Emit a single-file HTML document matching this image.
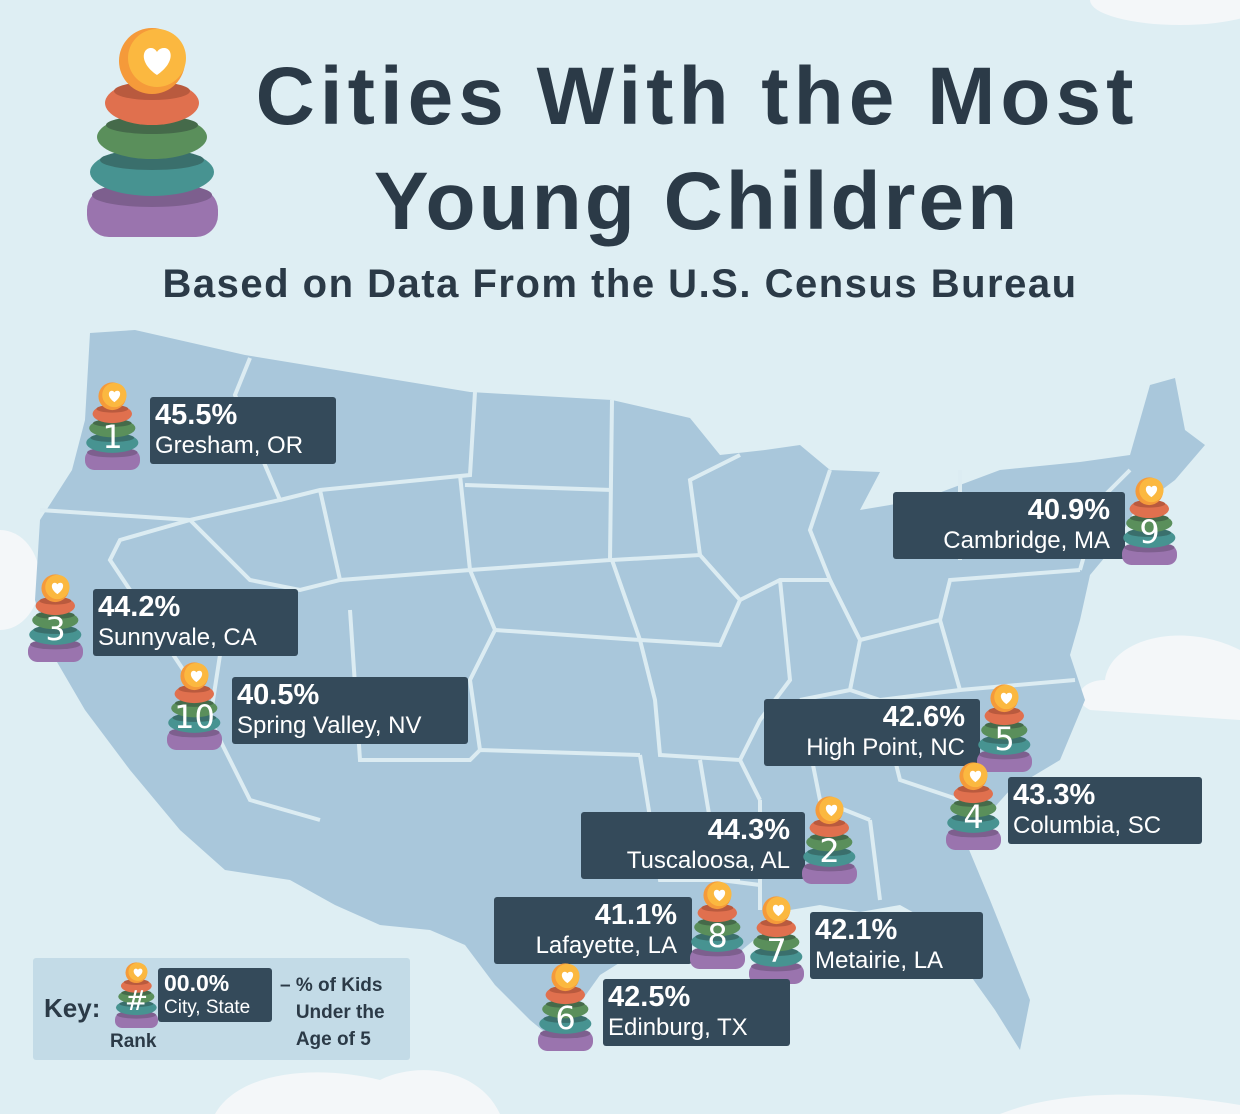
<!DOCTYPE html>
<html><head><meta charset="utf-8"><style>
body{margin:0;}
#c{position:relative;width:1240px;height:1114px;overflow:hidden;background:#deeef3;font-family:"Liberation Sans",sans-serif;}
.t{position:absolute;text-align:center;color:#2b3a47;font-weight:bold;white-space:nowrap;}
.box{position:absolute;background:#344a5a;border-radius:3px;color:#fff;box-sizing:border-box;padding:2px 14px 0 5px;}
.box b{display:block;font-size:29px;line-height:32px;}
.box span{display:block;font-size:24px;line-height:30px;}
.r{text-align:right;padding:2px 15px 0 5px;}
.ic{position:absolute;width:55px;height:88px;}
.ic svg{width:100%;height:100%;}
.ic i{position:absolute;left:0;width:55px;top:36px;text-align:center;color:#fff;font-style:normal;font-size:32px;font-family:"DejaVu Sans",sans-serif;}
</style></head><body><div id="c">
<svg width="0" height="0" style="position:absolute"><defs>
<symbol id="st" viewBox="0 0 131 210" preserveAspectRatio="none">
<rect x="0" y="161" width="131" height="49" rx="22" fill="#9a74ae"/>
<ellipse cx="65" cy="168" rx="60" ry="12" fill="#7d5f8e"/>
<ellipse cx="65" cy="145" rx="62" ry="24" fill="#479391"/>
<ellipse cx="65" cy="133" rx="52" ry="10" fill="#3a6f6c"/>
<ellipse cx="65" cy="110" rx="55" ry="22" fill="#5a8f5b"/>
<ellipse cx="65" cy="98" rx="46" ry="9" fill="#456a4a"/>
<ellipse cx="65" cy="76" rx="47" ry="22" fill="#e0704e"/>
<ellipse cx="65" cy="64" rx="38" ry="9" fill="#b95a3e"/>
<circle cx="65" cy="34" r="33" fill="#f59a3a"/>
<circle cx="70" cy="31" r="29" fill="#fbb840"/>
<path d="M70 48 C52 36 55 21 64 21 C68 21 70 25 70 25 C70 25 72 21 77 21 C86 21 88 36 70 48Z" fill="#fff"/>
</symbol></defs></svg>

<svg style="position:absolute;left:0;top:0" width="1240" height="1114">
<ellipse cx="1180" cy="0" rx="90" ry="25" fill="#f4f7f9"/>
<ellipse cx="0" cy="580" rx="40" ry="50" fill="#f4f7f9"/>
<path d="M1240 650 C1180 620 1110 640 1105 680 C1080 680 1070 700 1090 710 L1240 720Z" fill="#f4f7f9"/>
<path d="M215 1114 C240 1070 320 1065 380 1080 C420 1060 480 1070 500 1114Z" fill="#f4f7f9"/>
<path d="M1000 1114 C1060 1090 1150 1090 1240 1105 L1240 1114Z" fill="#f4f7f9"/>
<path d="M90 333 L135 330 L245 355 L470 392 L612 400 L690 418 L720 455 L765 450 L800 445 L830 470 L880 472 L860 510 L920 500 L1000 470 L1080 462 L1130 455 L1150 385 L1175 378 L1185 430 L1205 445 L1175 480 L1135 510 L1115 545 L1090 575 L1080 620 L1070 655 L1085 700 L1060 760 L1010 790 L965 840 L990 900 L1030 1000 L1020 1050 L995 1010 L970 975 L945 930 L900 905 L860 912 L820 905 L790 910 L760 935 L730 960 L690 945 L640 950 L600 975 L575 1010 L560 1045 L530 1020 L495 985 L465 945 L430 930 L380 925 L335 905 L290 880 L225 870 L180 830 L130 770 L85 710 L50 650 L35 600 L40 520 L72 470 L85 420Z" fill="#a9c7db"/>
<g stroke="#dcecf2" stroke-width="4" fill="none">
<path d="M250 358 L235 395 L280 500 L190 520 L40 510"/>
<path d="M280 500 L320 490 L470 475 L475 392"/>
<path d="M320 490 L340 580 L300 590 L250 580 L190 520"/>
<path d="M190 520 L120 540 L110 560 L210 710"/>
<path d="M340 580 L470 570 L460 475"/>
<path d="M470 570 L610 560 L612 400"/>
<path d="M465 485 L612 490"/>
<path d="M470 570 L495 630 L470 680 L480 750"/>
<path d="M350 610 L360 760 L470 760 L480 750 L640 755"/>
<path d="M230 590 L210 720 L250 800 L320 820"/>
<path d="M495 630 L640 640 L655 700 L660 755 L740 760 L760 800"/>
<path d="M612 560 L640 640 L720 645 L740 600 L700 555 L612 560"/>
<path d="M700 555 L690 480 L740 455"/>
<path d="M740 600 L780 580 L830 580 L810 530 L830 470"/>
<path d="M780 580 L790 680 L760 720 L740 760"/>
<path d="M830 580 L860 640 L850 690 L800 700"/>
<path d="M860 640 L940 620 L950 580 L1080 570"/>
<path d="M940 620 L960 690 L1075 680"/>
<path d="M850 690 L880 700 L960 690"/>
<path d="M800 700 L820 800 L870 820"/>
<path d="M760 800 L760 910"/>
<path d="M880 700 L900 780 L960 800"/>
<path d="M700 760 L720 880 L760 885"/>
<path d="M640 755 L660 880 L740 880"/>
<path d="M870 820 L880 900"/>
<path d="M960 560 L960 470"/>
<path d="M1080 570 L1100 500 L1130 470"/>
</g>
</svg>

<div class="ic" style="left:87px;top:27px;width:131px;height:210px"><svg><use href="#st"/></svg></div>
<div class="t" style="top:50px;left:197px;width:1000px;font-size:82px;letter-spacing:5px">Cities With the Most</div>
<div class="t" style="top:155px;left:197px;width:1000px;font-size:82px;letter-spacing:3px">Young Children</div>
<div class="t" style="top:262px;left:0;width:1240px;font-size:40px;letter-spacing:1.5px">Based on Data From the U.S. Census Bureau</div>

<div class="box" style="left:150px;top:397px;width:186px;height:67px"><b>45.5%</b><span>Gresham, OR</span></div>
<div class="ic" style="left:85px;top:382px"><svg><use href="#st"/></svg><i>1</i></div>

<div class="box" style="left:93px;top:589px;width:205px;height:67px"><b>44.2%</b><span>Sunnyvale, CA</span></div>
<div class="ic" style="left:28px;top:574px"><svg><use href="#st"/></svg><i>3</i></div>

<div class="box" style="left:232px;top:677px;width:236px;height:67px"><b>40.5%</b><span>Spring Valley, NV</span></div>
<div class="ic" style="left:167px;top:662px"><svg><use href="#st"/></svg><i>10</i></div>

<div class="box r" style="left:893px;top:492px;width:232px;height:67px"><b>40.9%</b><span>Cambridge, MA</span></div>
<div class="ic" style="left:1122px;top:477px"><svg><use href="#st"/></svg><i>9</i></div>

<div class="box r" style="left:764px;top:699px;width:216px;height:67px"><b>42.6%</b><span>High Point, NC</span></div>
<div class="ic" style="left:977px;top:684px"><svg><use href="#st"/></svg><i>5</i></div>

<div class="box" style="left:1008px;top:777px;width:194px;height:67px"><b>43.3%</b><span>Columbia, SC</span></div>
<div class="ic" style="left:946px;top:762px"><svg><use href="#st"/></svg><i>4</i></div>

<div class="box r" style="left:581px;top:812px;width:224px;height:67px"><b>44.3%</b><span>Tuscaloosa, AL</span></div>
<div class="ic" style="left:802px;top:796px"><svg><use href="#st"/></svg><i>2</i></div>

<div class="box r" style="left:494px;top:897px;width:198px;height:67px"><b>41.1%</b><span>Lafayette, LA</span></div>
<div class="ic" style="left:690px;top:881px"><svg><use href="#st"/></svg><i>8</i></div>

<div class="box" style="left:810px;top:912px;width:173px;height:67px"><b>42.1%</b><span>Metairie, LA</span></div>
<div class="ic" style="left:749px;top:896px"><svg><use href="#st"/></svg><i>7</i></div>

<div class="box" style="left:603px;top:979px;width:187px;height:67px"><b>42.5%</b><span>Edinburg, TX</span></div>
<div class="ic" style="left:538px;top:963px"><svg><use href="#st"/></svg><i>6</i></div>

<div style="position:absolute;left:33px;top:958px;width:377px;height:102px;background:#c3dbe7;border-radius:3px"></div>
<div style="position:absolute;left:44px;top:993px;font-size:26px;font-weight:bold;color:#2b3a47">Key:</div>
<div class="box" style="left:158px;top:968px;width:114px;height:54px;padding:2px 4px 0 6px"><b style="font-size:23px;line-height:26px">00.0%</b><span style="font-size:19px;line-height:24px">City, State</span></div>
<div class="ic" style="left:115px;top:962px;width:43px;height:66px"><svg><use href="#st"/></svg><i style="width:43px;top:22px;font-size:28px">#</i></div>
<div style="position:absolute;left:110px;top:1031px;font-size:19px;font-weight:bold;color:#2b3a47">Rank</div>
<div style="position:absolute;left:280px;top:972px;font-size:19px;font-weight:bold;color:#2b3a47;line-height:27px">– % of Kids<br>&nbsp;&nbsp;&nbsp;Under the<br>&nbsp;&nbsp;&nbsp;Age of 5</div>
</div></body></html>
